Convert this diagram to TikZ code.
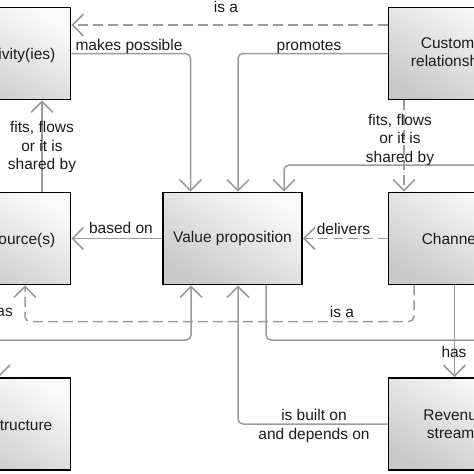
\documentclass[tikz,border=0pt]{standalone}
\usepackage{fontspec}
\setmainfont{Liberation Sans}
\usetikzlibrary{arrows.meta}
\definecolor{conncol}{HTML}{9B9B9B}
\definecolor{txtcol}{HTML}{1C1C1C}
\begin{document}
\begin{tikzpicture}[x=1pt,y=-1pt,
  every node/.style={text=txtcol},
  boxfont/.style={font=\fontsize{15.5}{18.5}\selectfont},
  box/.style={boxfont, draw=black, line width=1.8pt, top color=white!98!black, bottom color=black!21, shading angle=-30, minimum height=92pt, inner sep=0pt, align=center},
  sidebox/.style={box, minimum width=132pt},
  midbox/.style={box, minimum width=139pt},
  conn/.style={draw=conncol, line width=1.5pt, rounded corners=5pt, -{Straight Barb[length=11pt,width=22pt]}},
  dconn/.style={conn, dash pattern=on 10pt off 5pt},
  lbl/.style={boxfont, inner sep=0pt, align=center}]
\clip (0,0) rectangle (474,474);
\fill[white] (0,0) rectangle (474,474);
% boxes
\node[sidebox] (act) at (4.5,53.5) {};
\node[sidebox] (cr)  at (454.5,53.5) {Customer\\relationships};
\node[sidebox] (res) at (4.5,238.5) {};
\node[midbox]  (vp)  at (232.5,238.5) {Value proposition};
\node[sidebox] (ch)  at (454.5,238.5) {Channels};
\node[sidebox] (inf) at (4.5,424) {};
\node[sidebox] (rev) at (454.5,424) {Revenue\\streams};
% texts of the cut boxes
\node[lbl, anchor=base east] (acttxt) at (55.5,59) {Activity(ies)};
\node[lbl, anchor=base east] (restxt) at (55.5,244.5) {Resource(s)};
\node[lbl, anchor=base east] (inftxt) at (52.5,430) {Infrastructure};
% free ends
\coordinate (r1) at (490,165);
\coordinate (l1) at (-10,340);
\coordinate (r2) at (490,340);
\coordinate (l2) at (-1,345);
% connectors
\draw[dconn] (cr.west |- 0,25) -- (act.east |- 0,25);
\draw[conn] (act.east) -| (vp.north -| 190.5,0);
\draw[conn] (cr.west) -| (vp.north -| 238,0);
\draw[conn] (res.north -| 42,0) -- (act.south -| 42,0);
\draw[dconn] (cr.south -| 404,0) -- (ch.north -| 404,0);
\draw[conn] (r1) -| (vp.north -| 284,0);
\draw[conn] (vp.west) -- (res.east);
\draw[dconn] (ch.west) -- (vp.east);
\draw[dconn] (ch.south -| 414,0) -- (414,321.5) -- (25,321.5) -- (res.south -| 25,0);
\draw[conn] (l1) -| (vp.south -| 191,0);
\draw[conn] (vp.south -| 266,0) |- (r2);
\draw[conn] (ch.south) -- (rev.north);
\draw[conn] (rev.west) -| (vp.south -| 238,0);
\draw[conn] (l2) -- (inf.north -| -1,0);
% labels
\node[lbl, anchor=base] (t1) at (226,12.7) {is a};
\node[lbl, anchor=base] (t2) at (129,50) {makes possible};
\node[lbl, anchor=base] (t3) at (309,50.5) {promotes};
\node[lbl] (t4) at (42,147) {fits, flows\\or it is\\shared by};
\node[lbl] (t5) at (400,139.5) {fits, flows\\or it is\\shared by};
\node[lbl, anchor=base] (t6) at (121,233.3) {based on};
\node[lbl, anchor=base] (t7) at (343.5,234) {delivers};
\node[lbl, anchor=base] (t8) at (342,317) {is a};
\node[lbl, anchor=base east] (t9) at (13,316.7) {has};
\node[lbl, anchor=base] (t10) at (454,357) {has};
\node[lbl] (t11) at (314,426) {is built on\\and depends on};
\end{tikzpicture}
\end{document}
